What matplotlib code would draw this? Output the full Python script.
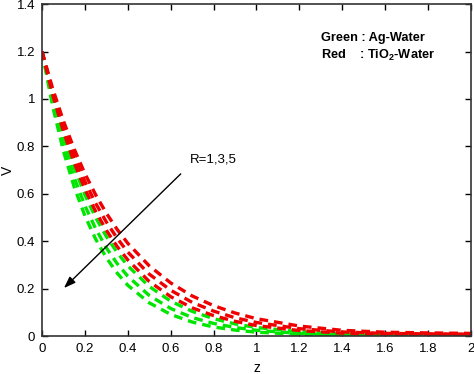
import matplotlib
matplotlib.use('Agg')
import matplotlib.pyplot as plt

# Velocity profiles V(z) for R = 1, 3, 5
z = [0, 0.05, 0.1, 0.15, 0.2, 0.25, 0.3, 0.35, 0.4, 0.5, 0.6, 0.7,
     0.8, 0.9, 1.0, 1.2, 1.4, 1.6, 1.8, 2.0]

# Green : Ag-Water
ag_R1 = [1.2, 0.968, 0.780, 0.629, 0.507, 0.409, 0.330, 0.266, 0.214, 0.140,
         0.091, 0.059, 0.038, 0.025, 0.016, 0.007, 0.004, 0.003, 0.002, 0.002]
ag_R3 = [1.2, 0.987, 0.812, 0.668, 0.550, 0.453, 0.372, 0.306, 0.252, 0.171,
         0.116, 0.078, 0.053, 0.036, 0.024, 0.011, 0.005, 0.004, 0.003, 0.003]
ag_R5 = [1.2, 1.007, 0.846, 0.710, 0.596, 0.500, 0.420, 0.353, 0.296, 0.209,
         0.147, 0.104, 0.073, 0.051, 0.036, 0.018, 0.009, 0.006, 0.005, 0.004]

# Red : TiO2-Water
ti_R1 = [1.2, 1.017, 0.863, 0.732, 0.620, 0.526, 0.446, 0.378, 0.321, 0.230,
         0.166, 0.119, 0.086, 0.062, 0.044, 0.023, 0.012, 0.008, 0.007, 0.006]
ti_R3 = [1.2, 1.031, 0.885, 0.760, 0.652, 0.560, 0.481, 0.413, 0.354, 0.261,
         0.193, 0.142, 0.105, 0.077, 0.057, 0.031, 0.017, 0.011, 0.009, 0.008]
ti_R5 = [1.2, 1.043, 0.907, 0.789, 0.685, 0.596, 0.518, 0.450, 0.391, 0.296,
         0.224, 0.169, 0.128, 0.097, 0.073, 0.042, 0.024, 0.016, 0.013, 0.011]

xticks = [0, 0.2, 0.4, 0.6, 0.8, 1, 1.2, 1.4, 1.6, 1.8, 2]
xtick_labels = ['0', '0.2', '0.4', '0.6', '0.8', '1', '1.2', '1.4', '1.6', '1.8', '2']
yticks = [0, 0.2, 0.4, 0.6, 0.8, 1, 1.2, 1.4]
ytick_labels = ['0', '0.2', '0.4', '0.6', '0.8', '1', '1.2', '1.4']

plt.rcParams['font.family'] = ['Liberation Sans', 'DejaVu Sans']
plt.rcParams['mathtext.fontset'] = 'custom'
plt.rcParams['mathtext.bf'] = 'Liberation Sans:bold'
plt.rcParams['mathtext.rm'] = 'Liberation Sans'

fig = plt.figure(figsize=(4.74, 3.74), dpi=100)
ax = fig.add_axes([0.0886, 0.1016, 0.905, 0.8874])

green = '#00e600'
red = '#ee0000'
dash = (0, (2.6, 1.8))
for v in [ag_R1, ag_R3, ag_R5]:
    ax.plot(z, v, color=green, lw=2.4, ls=dash)
for v in [ti_R1, ti_R3, ti_R5]:
    ax.plot(z, v, color=red, lw=2.4, ls=dash)

ax.set_xlim(0, 2)
ax.set_ylim(0, 1.4)
ax.set_xticks(xticks)
ax.set_xticklabels(xtick_labels)
ax.set_yticks(yticks)
ax.set_yticklabels(ytick_labels)
ax.tick_params(direction='in', top=True, right=True, length=4, width=1,
               labelsize=9.5, pad=5)
for s in ax.spines.values():
    s.set_linewidth(1.2)
    s.set_color('#333333')

ax.set_xlabel('z', fontsize=10)
ax.set_ylabel('V', fontsize=10)
ax.xaxis.set_label_coords(0.5, -0.075)
ax.yaxis.set_label_coords(-0.063, 0.5)

ax.annotate('', xy=(0.093, 0.194), xytext=(0.656, 0.692),
            arrowprops=dict(arrowstyle='-|>,head_length=0.7,head_width=0.25',
                            color='black', lw=1))
ax.text(0.69, 0.743, 'R=1,3,5', fontsize=9.5, va='center')

ax.text(1.302, 1.255, 'Green : Ag-Water', fontsize=9.2, fontweight='bold', va='center')
ax.text(1.302, 1.185, 'Red    : TiO$\\mathbf{_2}$-Water', fontsize=9.2,
        fontweight='bold', va='center')

plt.savefig('out.png', dpi=100)
